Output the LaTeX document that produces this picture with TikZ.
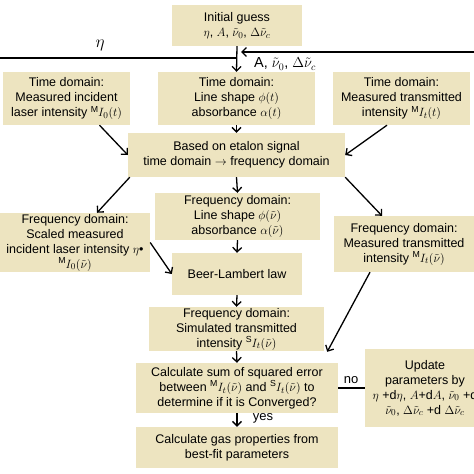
\documentclass[tikz,border=0pt]{standalone}
\usepackage{fontspec}
\setmainfont{Liberation Sans}
\usetikzlibrary{arrows.meta}
\definecolor{boxfill}{RGB}{237,228,192}
\newcommand{\nut}{\tilde{\nu}}
\newcommand{\Msup}{\textsuperscript{M}\kern-0.5pt}
\newcommand{\Ssup}{\textsuperscript{S}\kern-0.5pt}
\begin{document}
\begin{tikzpicture}[x=1pt,y=-1pt,
  box/.style={draw=none, fill=boxfill, align=center, inner sep=1pt, font=\fontsize{12.5}{15}\selectfont},
  arr/.style={-{Straight Barb[length=4.5pt,width=9pt]}, line width=1.3pt},
  ln/.style={line width=1.3pt},
  lbl/.style={font=\fontsize{13}{15}\selectfont, inner sep=0pt}]
\useasboundingbox (0,0) rectangle (474,474);
\fill[white] (0,0) rectangle (474,474);
\clip (0,0) rectangle (474,474);

\node[box, minimum width=130pt, minimum height=41pt] (init) at (237,25.5) {Initial guess\\ $\eta$, $A$, $\nut_0$, $\Delta\nut_c$};
\node[box, minimum width=127pt, minimum height=53pt] (tl) at (66.5,98.5) {Time domain:\\ Measured incident\\ laser intensity \Msup$I_0(t)$};
\node[box, minimum width=157pt, minimum height=53pt] (tm) at (236.5,98.5) {Time domain:\\ Line shape $\phi(t)$\\ absorbance $\alpha(t)$};
\node[box, minimum width=137pt, minimum height=53pt] (tr) at (401.5,98.5) {Time domain:\\ Measured transmitted\\ intensity \Msup$I_t(t)$};
\node[box, minimum width=217pt, minimum height=44pt] (et) at (236.5,155) {Based on etalon signal\\ time domain $\rightarrow$ frequency domain};
\node[box, minimum width=150pt, minimum height=59pt] (fl) at (75,242.5) {Frequency domain:\\ Scaled measured\\ incident laser intensity $\eta$\textbullet\\ \Msup$I_0(\nut)$};
\node[box, minimum width=165pt, minimum height=47pt] (fm) at (237.5,216.5) {Frequency domain:\\ Line shape $\phi(\nut)$\\ absorbance $\alpha(\nut)$};
\node[box, minimum width=140pt, minimum height=56pt] (fr) at (404,244) {Frequency domain:\\ Measured transmitted\\ intensity \Msup$I_t(\nut)$};
\node[box, minimum width=130pt, minimum height=42pt] (bl) at (237,274) {Beer-Lambert law};
\node[box, minimum width=175pt, minimum height=42pt] (sim) at (236.5,329) {Frequency domain:\\ Simulated transmitted\\ intensity \Ssup$I_t(\nut)$};
\node[box, minimum width=202pt, minimum height=50pt] (conv) at (237,388) {Calculate sum of squared error\\ between \Msup$I_t(\nut)$ and \Ssup$I_t(\nut)$ to\\ determine if it is Converged?};
\node[box, minimum width=120pt, minimum height=78pt] (upd) at (425,388) {Update\\ parameters by\\ $\eta$ +d$\eta$, $A$+d$A$, $\nut_0$ +d\\ $\nut_0$, $\Delta\nut_c$ +d $\Delta\nut_c$};
\node[box, minimum width=202pt, minimum height=41pt] (fin) at (237,447.5) {Calculate gas properties from\\ best-fit parameters};

% feedback lines
\coordinate (lin) at (-10,58);
\coordinate (ljoin) at (237,58);
\coordinate (rin) at (490,52);
\coordinate (rend) at (241,52);
\draw[ln] (lin) -- (ljoin);
\draw[arr] (rin) -- (rend);
\node[lbl, font=\fontsize{18}{18}\selectfont] (etalbl) at (100,45) {$\eta$};
\node[lbl, anchor=west, font=\fontsize{14.5}{16}\selectfont] (albl) at (254,64) {A, $\nut_0$, $\Delta\nut_c$};

% arrows
\draw[arr] (init.south) -- (tm.north);
\draw[arr] (tm.south) -- (et.north);
\draw[arr] ([xshift=33pt]tl.south) -- (et.west);
\draw[arr] ([xshift=-14.5pt]tr.south) -- (et.east);
\draw[arr] ([xshift=2pt]et.south west) -- ([xshift=22pt]fl.north);
\draw[arr] ([xshift=0pt]et.south east) -- ([xshift=-22pt]fr.north);
\draw[arr] (et.south) -- (fm.north);
\draw[arr] (fm.south) -- (bl.north);
\draw[arr] (fl.east) -- (bl.west);
\draw[arr] (bl.south) -- (sim.north);
\draw[arr] ([xshift=-34pt]fr.south) -- ([shift={(-11pt,11pt)}]conv.north east);
\draw[arr] (sim.south) -- (conv.north);
\draw[ln] (conv.east) -- (upd.west);
\node[lbl] (nolbl) at (351,380) {no};
\draw[arr] (conv.south) -- (fin.north);
\node[lbl] (yeslbl) at (263,418) {yes};
\end{tikzpicture}
\end{document}
